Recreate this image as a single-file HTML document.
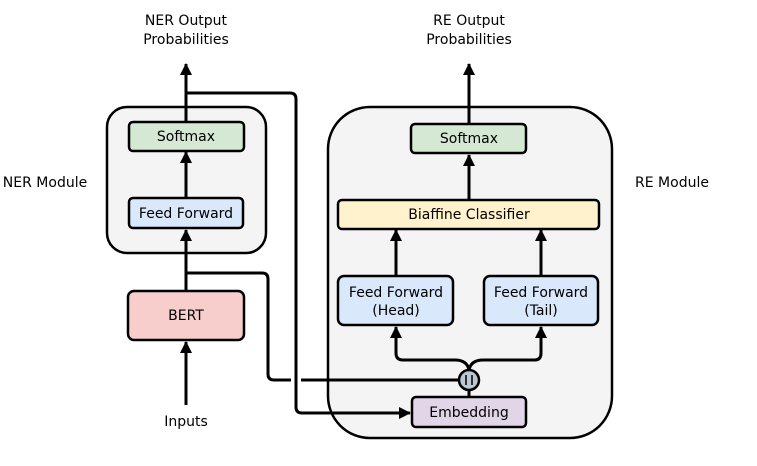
<!DOCTYPE html>
<html><head><style>body{margin:0;background:#fff}</style></head><body>
<svg width="757" height="461" xmlns="http://www.w3.org/2000/svg" font-family="DejaVu Sans, Liberation Sans, sans-serif" font-size="14" fill="none">
<defs>
<marker id="b" markerWidth="12" markerHeight="12" refX="11" refY="6" orient="auto" markerUnits="userSpaceOnUse"><path d="M0,0L12,6L0,12z" fill="#000"/></marker></defs>
<rect x="107" y="107" width="159" height="146" rx="20" fill="#f4f4f4" stroke="#000" stroke-width="2.5"/>
<rect x="328" y="107" width="284" height="331" rx="42" fill="#f4f4f4" stroke="#000" stroke-width="2.5"/>
<g stroke="#000" stroke-width="3">
<path d="M186 122V64" marker-end="url(#b)"/>
<path d="M186 198V152" marker-end="url(#b)"/>
<path d="M186 291V230" marker-end="url(#b)"/>
<path d="M186 405V342" marker-end="url(#b)"/>
<path d="M186 93H290q6 0 6 6V407q0 6 6 6H410" marker-end="url(#b)"/>
<path d="M186 273H262q6 0 6 6V374q0 6 6 6H291M301 380H459"/>
<path d="M469 124V64" marker-end="url(#b)"/>
<path d="M469 200V155" marker-end="url(#b)"/>
<path d="M396 276V230" marker-end="url(#b)"/>
<path d="M541 276V230" marker-end="url(#b)"/>
<path d="M469 370q-2-10-14-10H403q-7 0-7-7V327" marker-end="url(#b)"/>
<path d="M469 370q2-10 14-10H535q6 0 6-7V327" marker-end="url(#b)"/>
<path d="M469 390V397"/>
</g>
<g stroke="#000" stroke-width="2.5">
<rect x="129" y="122" width="115" height="29" rx="4" fill="#d5e8d4"/>
<rect x="129" y="198" width="114" height="30" rx="4" fill="#dae8fc"/>
<rect x="128" y="291" width="116" height="49" rx="6" fill="#f8cecc"/>
<rect x="411" y="124" width="115" height="29" rx="4" fill="#d5e8d4"/>
<rect x="338" y="200" width="261" height="29" rx="4" fill="#fff2cc"/>
<rect x="338" y="276" width="115" height="49" rx="6" fill="#dae8fc"/>
<rect x="484" y="276" width="114" height="49" rx="6" fill="#dae8fc"/>
<rect x="412" y="397" width="114" height="30" rx="4" fill="#e1d5e7"/>
<circle cx="469" cy="380" r="10" fill="#bac8d3"/>
</g>
<path d="M466 375V385M472 375V385" stroke="#000" stroke-width="1.5"/>
<g fill="#000" text-anchor="middle">
<text x="186" y="25">NER Output</text><text x="186" y="44">Probabilities</text>
<text x="469" y="25">RE Output</text><text x="469" y="44">Probabilities</text>
<text x="186" y="141">Softmax</text>
<text x="186" y="218">Feed Forward</text>
<text x="186" y="320">BERT</text>
<text x="186" y="426">Inputs</text>
<text x="45" y="187">NER Module</text>
<text x="672" y="187">RE Module</text>
<text x="469" y="143">Softmax</text>
<text x="469" y="219">Biaffine Classifier</text>
<text x="396" y="297">Feed Forward</text><text x="396" y="315">(Head)</text>
<text x="541" y="297">Feed Forward</text><text x="541" y="315">(Tail)</text>
<text x="469" y="417">Embedding</text>
</g>
</svg>
</body></html>
